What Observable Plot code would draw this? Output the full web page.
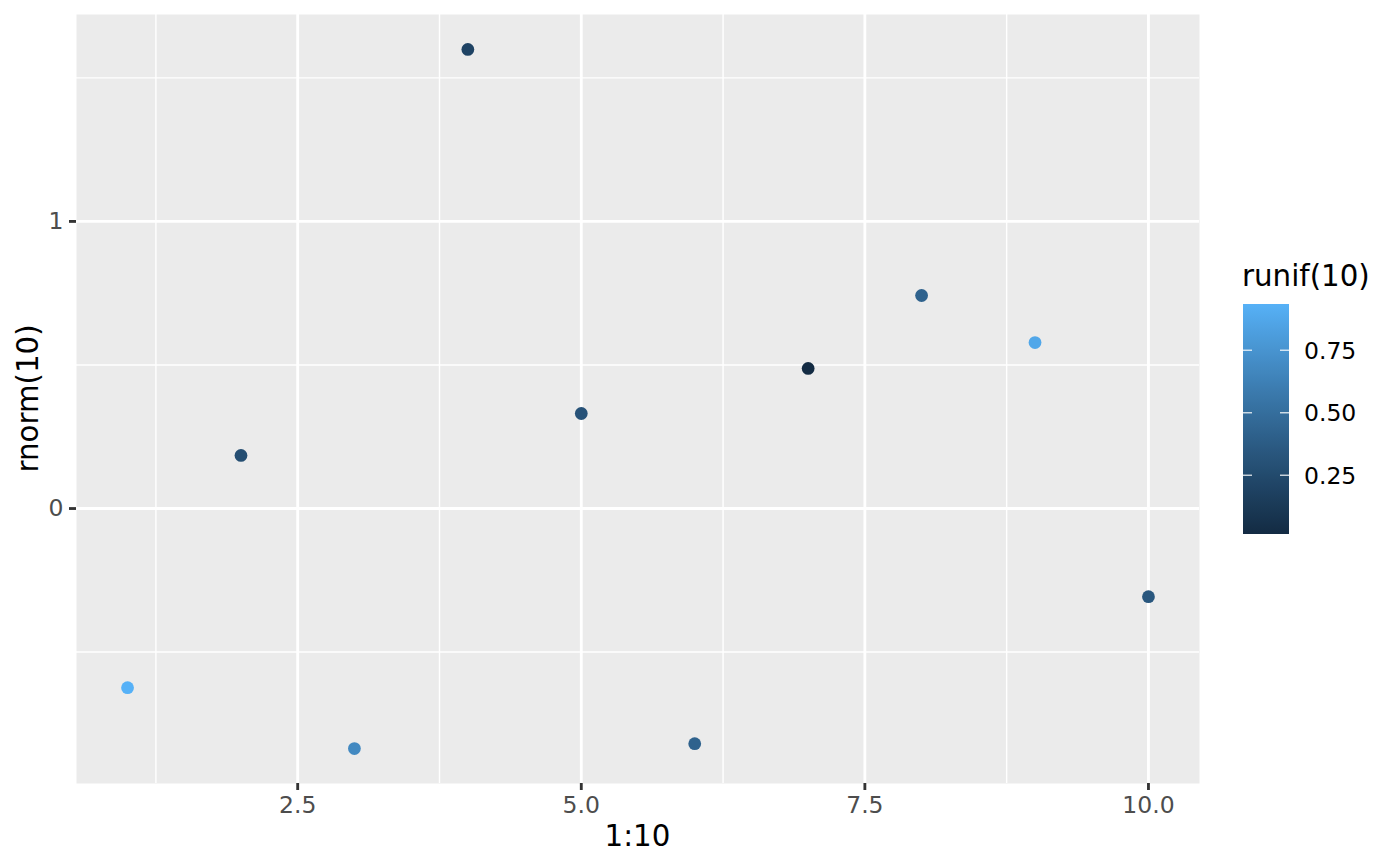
<!DOCTYPE html>
<html>
<head>
<meta charset="utf-8">
<script src="https://cdn.jsdelivr.net/npm/d3@7"></script>
<script src="https://cdn.jsdelivr.net/npm/@observablehq/plot@0.6"></script>
<style>
  html, body { margin: 0; padding: 0; background: #ffffff; }
  #chart { width: 1400px; height: 866px; position: relative; }
</style>
</head>
<body>
<div id="chart"></div>
<script>
// ---- data ----
const xs = [1, 2, 3, 4, 5, 6, 7, 8, 9, 10];
const ys = [-0.624, 0.185, -0.836, 1.599, 0.331, -0.819, 0.488, 0.742, 0.578, -0.307];
const cs = [0.935, 0.28, 0.68, 0.20, 0.31, 0.42, 0.015, 0.42, 0.87, 0.34];
const xTicks = [2.5, 5.0, 7.5, 10.0];
const xMinor = [1.25, 3.75, 6.25, 8.75];
const yTicks = [0, 1];
const yMinor = [-0.5, 0.5, 1.5];
const legendTicks = [0.25, 0.50, 0.75];

const data = xs.map((x, i) => ({x, y: ys[i], c: cs[i]}));

const W = 1400, H = 866;
const mL = 76, mR = 201, mT = 14, mB = 83;
const FONT = "DejaVu Sans, sans-serif";
const major = 2.84, minor = 1.42;

const xExt = d3.extent(xs), yExt = d3.extent(ys);
const xPad = (xExt[1] - xExt[0]) * 0.05, yPad = (yExt[1] - yExt[0]) * 0.05;

const plot = Plot.plot({
  width: W, height: H,
  marginLeft: mL, marginRight: mR, marginTop: mT, marginBottom: mB,
  style: {fontFamily: FONT, background: "#ffffff", overflow: "visible"},
  x: {domain: [xExt[0] - xPad, xExt[1] + xPad]},
  y: {domain: [yExt[0] - yPad, yExt[1] + yPad]},
  color: {type: "linear", domain: d3.extent(cs), range: ["#132B43", "#56B1F7"], interpolate: "lab"},
  marks: [
    Plot.frame({fill: "#EBEBEB", stroke: null}),
    Plot.gridX(xMinor, {stroke: "#ffffff", strokeOpacity: 1, strokeWidth: minor}),
    Plot.gridY(yMinor, {stroke: "#ffffff", strokeOpacity: 1, strokeWidth: minor}),
    Plot.gridX(xTicks, {stroke: "#ffffff", strokeOpacity: 1, strokeWidth: major}),
    Plot.gridY(yTicks, {stroke: "#ffffff", strokeOpacity: 1, strokeWidth: major}),
    Plot.axisX(xTicks, {tickSize: 7, tickPadding: 6, tickFormat: d3.format(".1f"), fontSize: 23.5,
      stroke: "#333333", fill: "#4D4D4D", strokeWidth: major, label: null}),
    Plot.axisY(yTicks, {tickSize: 7, tickPadding: 6, tickFormat: d3.format("d"), fontSize: 23.5,
      stroke: "#333333", fill: "#4D4D4D", strokeWidth: major, label: null}),
    Plot.dot(data, {x: "x", y: "y", fill: "c", r: 6.4, stroke: null})
  ]
});

document.getElementById("chart").appendChild(plot);

const svg = d3.select(plot);
const color = plot.scale("color");

// axis titles
svg.append("text")
  .attr("x", (mL + (W - mR)) / 2).attr("y", 846)
  .attr("text-anchor", "middle")
  .style("font-family", FONT).style("font-size", "29.3px").attr("fill", "#000000")
  .text("1:10");
svg.append("text")
  .attr("transform", `translate(38,${(mT + (H - mB)) / 2}) rotate(-90)`)
  .attr("text-anchor", "middle")
  .style("font-family", FONT).style("font-size", "29.3px").attr("fill", "#000000")
  .text("rnorm(10)");

// legend (colourbar)
const barX = 1243, barW = 46, barTop = 304, barBottom = 534;
const lg = svg.append("g").attr("text-anchor", "start");
lg.append("text")
  .attr("x", 1242).attr("y", 286).attr("text-anchor", "start")
  .style("font-family", FONT).style("font-size", "29.3px").attr("fill", "#000000")
  .text("runif(10)");

const ly = d3.scaleLinear().domain(color.domain).range([barBottom, barTop]);
const defs = svg.append("defs");
const grad = defs.append("linearGradient").attr("id", "cbar")
  .attr("x1", 0).attr("y1", 1).attr("x2", 0).attr("y2", 0);
const nStops = 30;
d3.range(nStops + 1).forEach(i => {
  const t = i / nStops;
  const v = color.domain[0] + t * (color.domain[1] - color.domain[0]);
  grad.append("stop").attr("offset", t).attr("stop-color", color.apply(v));
});
lg.append("rect")
  .attr("x", barX).attr("y", barTop).attr("width", barW).attr("height", barBottom - barTop)
  .attr("fill", "url(#cbar)");
legendTicks.forEach(v => {
  const yy = ly(v);
  lg.append("line").attr("x1", barX).attr("x2", barX + 9).attr("y1", yy).attr("y2", yy)
    .attr("stroke", "#ffffff").attr("stroke-opacity", 0.8).attr("stroke-width", 1.4);
  lg.append("line").attr("x1", barX + barW - 9).attr("x2", barX + barW).attr("y1", yy).attr("y2", yy)
    .attr("stroke", "#ffffff").attr("stroke-opacity", 0.8).attr("stroke-width", 1.4);
  lg.append("text").attr("x", 1304).attr("y", yy).attr("dy", "0.36em").attr("text-anchor", "start")
    .style("font-family", FONT).style("font-size", "23.5px").attr("fill", "#000000")
    .text(d3.format(".2f")(v));
});
</script>
</body>
</html>
